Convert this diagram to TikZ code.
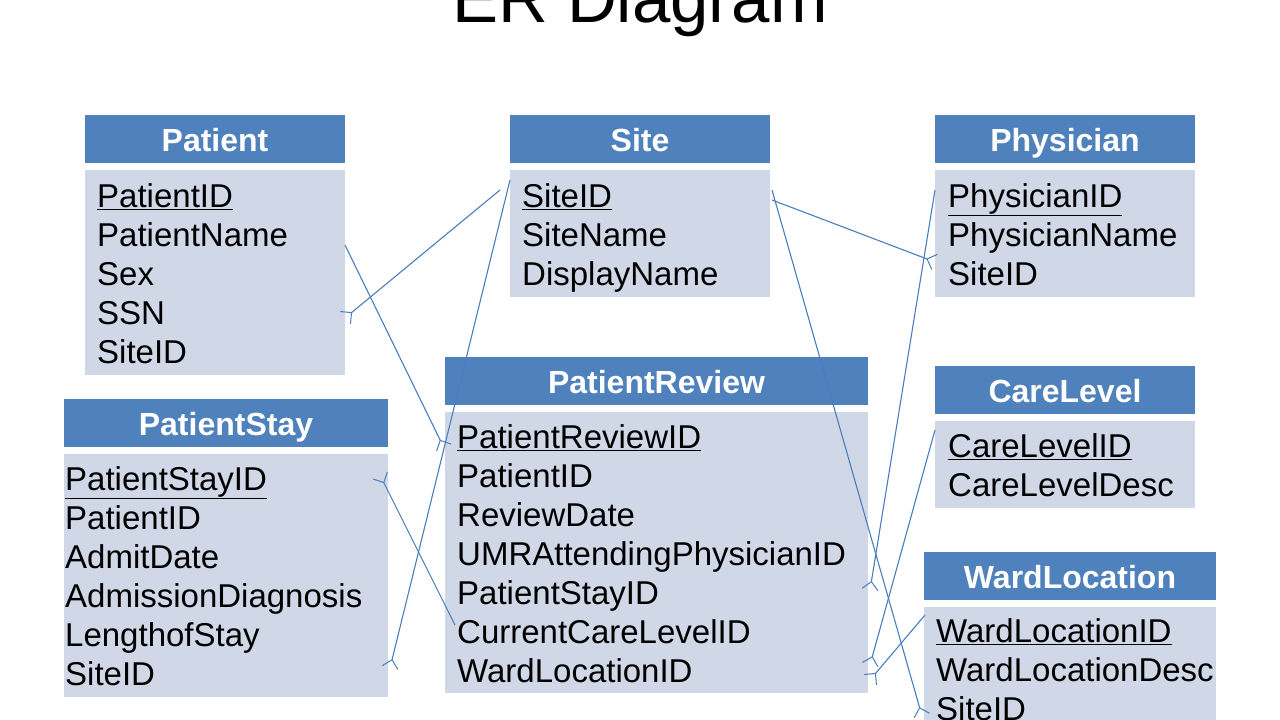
\documentclass[tikz,border=0pt]{standalone}
\usepackage{fontspec}
\setmainfont{Liberation Sans}
\usetikzlibrary{arrows.meta}
\definecolor{hdr}{HTML}{4F81BD}
\definecolor{bdy}{HTML}{D0D8E8}
\definecolor{ln}{HTML}{4A7EBB}
\tikzset{
 ttl/.style={text=white,font=\fontsize{32}{36}\selectfont\bfseries,inner sep=0,anchor=base},
 row/.style={anchor=base west,inner sep=0,font=\fontsize{33}{38}\selectfont},
 rel/.style={ln,line width=1.1pt},
 crow/.style={-{Straight Barb[reversed,length=8pt,width=16pt,line width=1pt]}},
}
% #1 name, #2 x1, #3 x2, #4 hy1, #5 hy2, #6 by1, #7 by2, #8 title
\newcommand\ertable[8]{%
 \fill[hdr] (#2,#4) rectangle (#3,#5);
 \fill[bdy] (#2,#6) rectangle (#3,#7);
 \node[ttl] (#1) at ({(#2+#3)/2},{(#4+#5)/2+12}) {#8};
}
\newcommand\errows[4]{% x, first baseline, name, list
 \foreach \t [count=\i from 0] in {#4}{%
  \node[row] (#3r\i) at (#1,{#2+39*\i}) {\ifnum\i=0 \underline{\t}\else\t\fi};}%
}
\begin{document}
\begin{tikzpicture}[x=1pt,y=-1pt]
\useasboundingbox (0,0) rectangle (1280,720);
\node[font=\fontsize{69}{72}\selectfont,anchor=base] (title) at (640,22) {ER Diagram};
\ertable{pat}{85}{345}{115}{163}{170}{375}{Patient}
\errows{97}{207}{pat}{PatientID,PatientName,Sex,SSN,SiteID}
\ertable{site}{510}{770}{115}{163}{170}{297}{Site}
\errows{522}{207}{site}{SiteID,SiteName,DisplayName}
\ertable{phy}{935}{1195}{115}{163}{170}{297}{Physician}
\errows{948}{207}{phy}{PhysicianID,PhysicianName,SiteID}
\ertable{ps}{64}{388}{399}{447}{454}{697}{PatientStay}
\errows{65}{490}{ps}{PatientStayID,PatientID,AdmitDate,AdmissionDiagnosis,LengthofStay,SiteID}
\ertable{pr}{445}{868}{357}{405}{412}{693}{PatientReview}
\errows{457}{448}{pr}{PatientReviewID,PatientID,ReviewDate,UMRAttendingPhysicianID,PatientStayID,CurrentCareLevelID,WardLocationID}
\ertable{cl}{935}{1195}{366}{414}{421}{508}{CareLevel}
\errows{948}{457}{cl}{CareLevelID,CareLevelDesc}
\ertable{wl}{924}{1216}{552}{600}{607}{720}{WardLocation}
\errows{936}{642}{wl}{WardLocationID,WardLocationDesc,SiteID}
% connectors
\coordinate (a1) at (500,190); \coordinate (a2) at (345,318);
\coordinate (b1) at (510,180); \coordinate (b2) at (390,668);
\coordinate (c1) at (345,245); \coordinate (c2) at (444,448);
\coordinate (d1) at (380,475); \coordinate (d2) at (455,625);
\coordinate (e1) at (772,200); \coordinate (e2) at (935,262);
\coordinate (f1) at (772,190); \coordinate (f2) at (922,716);
\coordinate (g1) at (935,190); \coordinate (g2) at (870,590);
\coordinate (h1) at (935,430); \coordinate (h2) at (870,665);
\coordinate (i1) at (925,615); \coordinate (i2) at (870,680);
\draw[rel,crow] (a1) -- (a2);
\draw[rel,crow] (b1) -- (b2);
\draw[rel,crow] (c1) -- (c2);
\draw[rel,crow] (d2) -- (d1);
\draw[rel,crow] (e1) -- (e2);
\draw[rel,crow] (f1) -- (f2);
\draw[rel,crow] (g1) -- (g2);
\draw[rel,crow] (h1) -- (h2);
\draw[rel,crow] (i1) -- (i2);
\end{tikzpicture}
\end{document}
